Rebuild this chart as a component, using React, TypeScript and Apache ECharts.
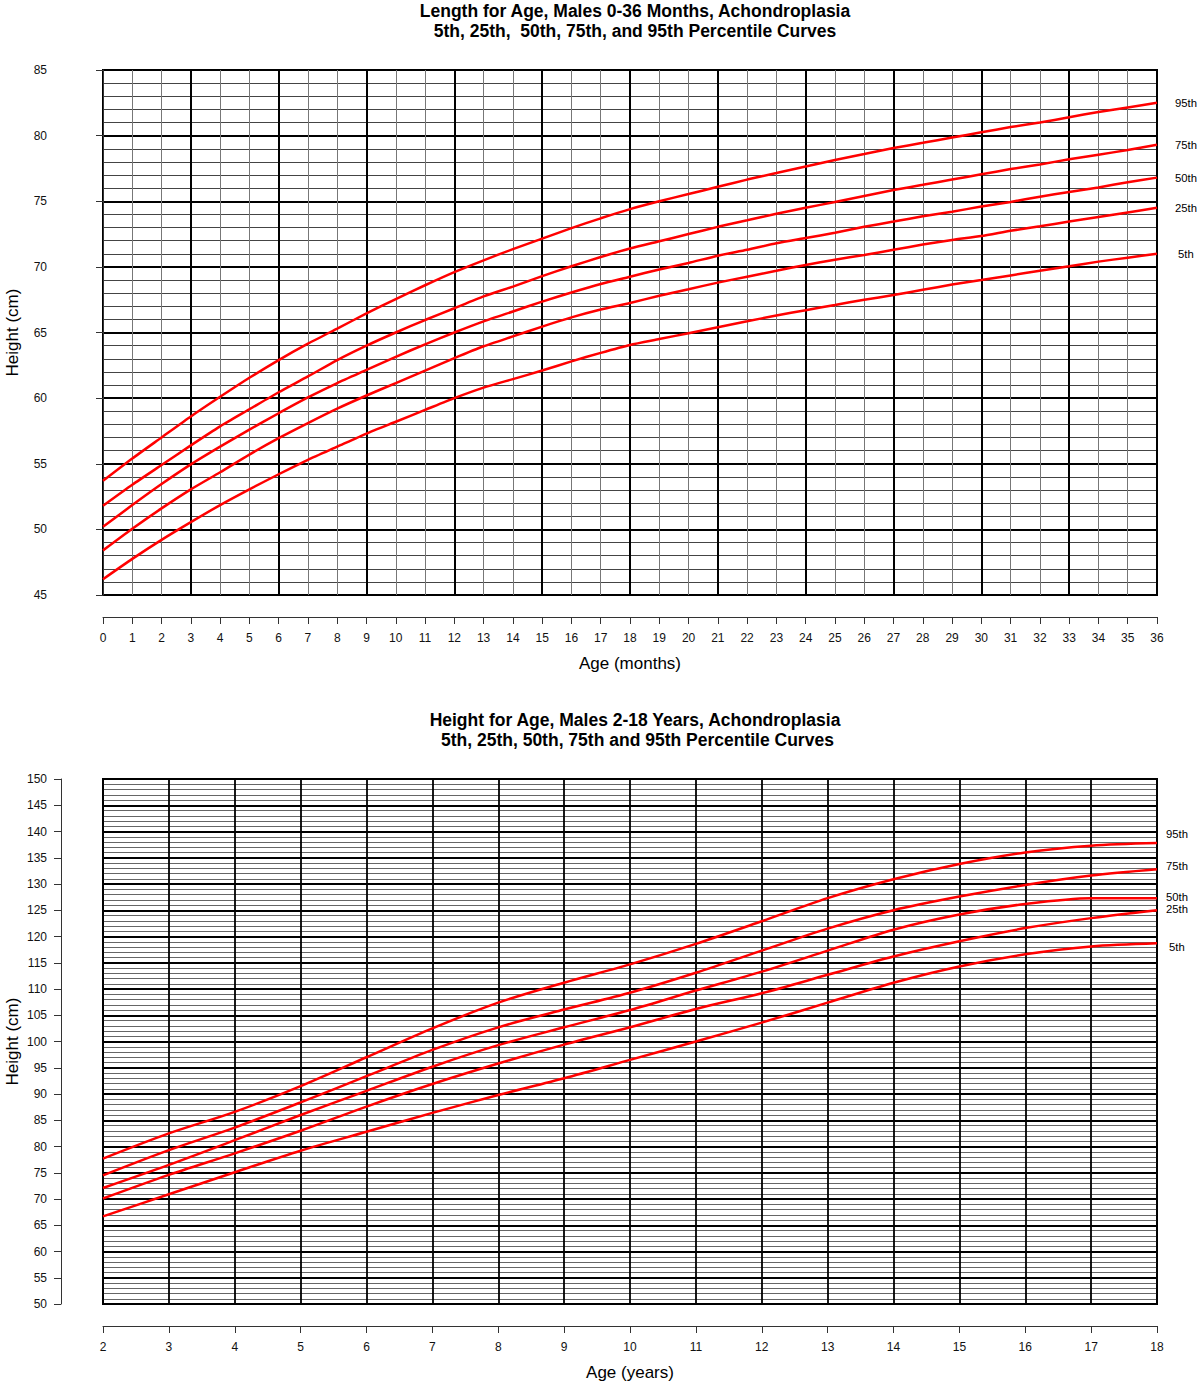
import React, { useEffect, useRef } from "react";
import * as echarts from "echarts";

// ---------- DATA ----------
const SERIES_NAMES = ["95th", "75th", "50th", "25th", "5th"];

const MONTHS = [0, 1, 2, 3, 4, 5, 6, 7, 8, 9, 10, 11, 12, 13, 14, 15, 16, 17, 18, 19, 20, 21, 22, 23, 24, 25, 26, 27, 28, 29, 30, 31, 32, 33, 34, 35, 36];

const INF_P95 = [53.7, 55.4, 57.0, 58.6, 60.1, 61.55, 62.9, 64.15, 65.3, 66.45, 67.55, 68.6, 69.6, 70.5, 71.35, 72.15, 72.95, 73.7, 74.4, 75.0, 75.55, 76.1, 76.65, 77.15, 77.65, 78.15, 78.6, 79.05, 79.45, 79.85, 80.25, 80.65, 81.0, 81.4, 81.8, 82.15, 82.5];
const INF_P75 = [51.8, 53.4, 54.9, 56.4, 57.85, 59.15, 60.45, 61.65, 62.9, 64.0, 65.0, 65.95, 66.85, 67.75, 68.5, 69.3, 70.05, 70.75, 71.4, 71.95, 72.5, 73.05, 73.55, 74.05, 74.5, 74.95, 75.4, 75.85, 76.25, 76.65, 77.05, 77.45, 77.8, 78.2, 78.55, 78.9, 79.3];
const INF_P50 = [50.2, 51.85, 53.45, 54.95, 56.3, 57.6, 58.85, 60.05, 61.15, 62.15, 63.15, 64.1, 65.0, 65.85, 66.6, 67.35, 68.05, 68.7, 69.25, 69.8, 70.3, 70.85, 71.3, 71.8, 72.2, 72.6, 73.05, 73.45, 73.85, 74.2, 74.6, 74.95, 75.35, 75.7, 76.05, 76.45, 76.8];
const INF_P25 = [48.4, 50.05, 51.6, 53.05, 54.35, 55.7, 56.95, 58.1, 59.2, 60.2, 61.15, 62.1, 63.05, 63.95, 64.7, 65.45, 66.15, 66.75, 67.25, 67.8, 68.3, 68.8, 69.25, 69.7, 70.15, 70.55, 70.9, 71.3, 71.7, 72.05, 72.35, 72.75, 73.1, 73.45, 73.8, 74.15, 74.5];
const INF_P5 = [46.2, 47.75, 49.2, 50.55, 51.85, 53.05, 54.2, 55.3, 56.3, 57.3, 58.2, 59.1, 60.0, 60.8, 61.45, 62.1, 62.8, 63.45, 64.05, 64.5, 64.95, 65.4, 65.85, 66.3, 66.7, 67.1, 67.5, 67.85, 68.25, 68.65, 69.0, 69.35, 69.7, 70.05, 70.4, 70.7, 71.0];

const AGES = [2, 3, 4, 5, 6, 7, 8, 9, 10, 11, 12, 13, 14, 15, 16, 17, 18];

const CH_P95 = [77.7, 82.5, 86.6, 91.5, 97.0, 102.5, 107.4, 111.2, 114.7, 118.6, 122.9, 127.3, 130.9, 133.8, 136.0, 137.3, 137.8];
const CH_P75 = [74.5, 79.3, 83.6, 88.4, 93.4, 98.4, 102.7, 106.1, 109.3, 113.1, 117.3, 121.5, 125.0, 127.6, 129.8, 131.6, 132.8];
const CH_P50 = [72.1, 76.5, 81.2, 86.0, 90.6, 95.2, 99.3, 102.7, 106.0, 109.7, 113.3, 117.3, 121.3, 124.2, 126.2, 127.3, 127.3];
const CH_P25 = [70.1, 74.6, 78.7, 83.0, 87.6, 91.9, 95.8, 99.4, 102.7, 106.2, 109.2, 112.7, 116.2, 119.1, 121.6, 123.5, 125.0];
const CH_P5 = [66.7, 70.9, 75.1, 79.2, 82.8, 86.4, 89.8, 93.0, 96.5, 100.0, 103.6, 107.4, 111.2, 114.3, 116.6, 118.1, 118.7];

const TITLE_TOP = "Length for Age, Males 0-36 Months, Achondroplasia\n5th, 25th,  50th, 75th, and 95th Percentile Curves";
const TITLE_BOTTOM = "Height for Age, Males 2-18 Years, Achondroplasia\n 5th, 25th, 50th, 75th and 95th Percentile Curves";

// ---------- STYLE ----------
const FONT = "'Liberation Sans', Arial, Helvetica, sans-serif";
const RED = "#ff0000";

function zip(xs: number[], ys: number[]) {
  return xs.map((x, i) => [x, ys[i]]);
}

function curve(
  name: string,
  xs: number[],
  ys: number[],
  xIdx: number,
  yIdx: number,
  dist: number,
  dy: number,
  smooth: number
) {
  return {
    type: "line",
    name,
    xAxisIndex: xIdx,
    yAxisIndex: yIdx,
    data: zip(xs, ys),
    showSymbol: false,
    symbol: "none",
    smooth,
    clip: false,
    z: 10,
    lineStyle: { color: RED, width: 2.5 },
    itemStyle: { color: RED },
    endLabel: {
      show: true,
      formatter: name,
      distance: dist,
      offset: [0, dy],
      color: "#000",
      fontFamily: FONT,
      fontSize: 11.3,
    },
  };
}

const axisText = { color: "#111", fontFamily: FONT, fontSize: 12 };
const axisLineStyle = { lineStyle: { color: "#333", width: 1 } };
const nameStyle = { color: "#000", fontFamily: FONT, fontSize: 17 };

export default function App() {
  const ref = useRef<HTMLDivElement>(null);

  useEffect(() => {
    if (!ref.current) return;
    const chart = echarts.init(ref.current, null, { renderer: "svg" });

    const topVals = [INF_P95, INF_P75, INF_P50, INF_P25, INF_P5];
    const botVals = [CH_P95, CH_P75, CH_P50, CH_P25, CH_P5];
    const topDist = [18, 18, 18, 18, 21];
    const botDist = [9, 9, 9, 9, 12];
    const botDy = [-9, -3.5, -1.5, -1, 3.4];

    const series: any[] = [];
    SERIES_NAMES.forEach((n, i) => {
      series.push(curve(n, MONTHS, topVals[i], 0, 0, topDist[i], 0, 0.2));
    });
    SERIES_NAMES.forEach((n, i) => {
      series.push(curve(n, AGES, botVals[i], 2, 1, botDist[i], botDy[i], 0.3));
    });

    const titleStyle = { fontFamily: FONT, fontSize: 17.5, fontWeight: "bold", color: "#000", lineHeight: 20 };

    const option: any = {
      animation: false,
      backgroundColor: "#fff",
      textStyle: { fontFamily: FONT },
      title: [
        { text: TITLE_TOP, left: 630, top: -4, textAlign: "center", textStyle: titleStyle },
        { text: TITLE_BOTTOM, left: 630, top: 705, textAlign: "center", textStyle: titleStyle },
      ],
      grid: [
        { left: 103, top: 70, width: 1054, height: 525, show: true, borderColor: "#000", borderWidth: 2, backgroundColor: "transparent", containLabel: false, outerBoundsMode: "none" },
        { left: 103, top: 779, width: 1054, height: 525, show: true, borderColor: "#000", borderWidth: 2, backgroundColor: "transparent", containLabel: false, outerBoundsMode: "none" },
      ],
      xAxis: [
        {
          gridIndex: 0,
          type: "value",
          min: 0,
          max: 36,
          interval: 1,
          position: "bottom",
          offset: 22,
          axisLine: { show: true, ...axisLineStyle },
          axisTick: { show: true, length: 7, lineStyle: { color: "#333" } },
          axisLabel: { ...axisText, margin: 15 },
          splitLine: { show: false },
          name: "Age (months)",
          nameLocation: "middle",
          nameGap: 38,
          nameMoveOverlap: false,
          nameTextStyle: nameStyle,
        },
        {
          gridIndex: 0,
          type: "value",
          min: 0,
          max: 36,
          interval: 3,
          position: "top",
          axisLine: { show: false },
          axisTick: { show: false },
          axisLabel: { show: false },
          splitLine: { show: true, lineStyle: { color: "#000", width: 2 } },
          minorTick: { show: false, splitNumber: 3 },
          minorSplitLine: { show: true, lineStyle: { color: "#777", width: 1 } },
        },
        {
          gridIndex: 1,
          type: "value",
          min: 2,
          max: 18,
          interval: 1,
          position: "bottom",
          offset: 22,
          axisLine: { show: true, ...axisLineStyle },
          axisTick: { show: true, length: 7, lineStyle: { color: "#333" } },
          axisLabel: { ...axisText, margin: 15 },
          splitLine: { show: true, lineStyle: { color: "#000", width: 1.8 } },
          name: "Age (years)",
          nameLocation: "middle",
          nameGap: 38,
          nameMoveOverlap: false,
          nameTextStyle: nameStyle,
        },
      ],
      yAxis: [
        {
          gridIndex: 0,
          type: "value",
          min: 45,
          max: 85,
          interval: 5,
          position: "left",
          offset: 42,
          axisLine: { show: true, ...axisLineStyle },
          axisTick: { show: true, length: 7, lineStyle: { color: "#333" } },
          axisLabel: { ...axisText, margin: 14 },
          splitLine: { show: true, lineStyle: { color: "#000", width: 2 } },
          minorTick: { show: false, splitNumber: 5 },
          minorSplitLine: { show: true, lineStyle: { color: "#444", width: 1 } },
          name: "Height (cm)",
          nameLocation: "middle",
          nameGap: 40,
          nameMoveOverlap: false,
          nameTextStyle: nameStyle,
        },
        {
          gridIndex: 1,
          type: "value",
          min: 50,
          max: 150,
          interval: 5,
          position: "left",
          offset: 42,
          axisLine: { show: true, ...axisLineStyle },
          axisTick: { show: true, length: 7, lineStyle: { color: "#333" } },
          axisLabel: { ...axisText, margin: 14 },
          splitLine: { show: true, lineStyle: { color: "#000", width: 2 } },
          minorTick: { show: false, splitNumber: 5 },
          minorSplitLine: { show: true, lineStyle: { color: "#666", width: 1 } },
          name: "Height (cm)",
          nameLocation: "middle",
          nameGap: 40,
          nameMoveOverlap: false,
          nameTextStyle: nameStyle,
        },
      ],
      series,
    };

    chart.setOption(option);
    return () => chart.dispose();
  }, []);

  return (
    <div
      ref={ref}
      style={{ position: "absolute", left: 0, top: 0, width: 1200, height: 1387, background: "#fff" }}
    />
  );
}
